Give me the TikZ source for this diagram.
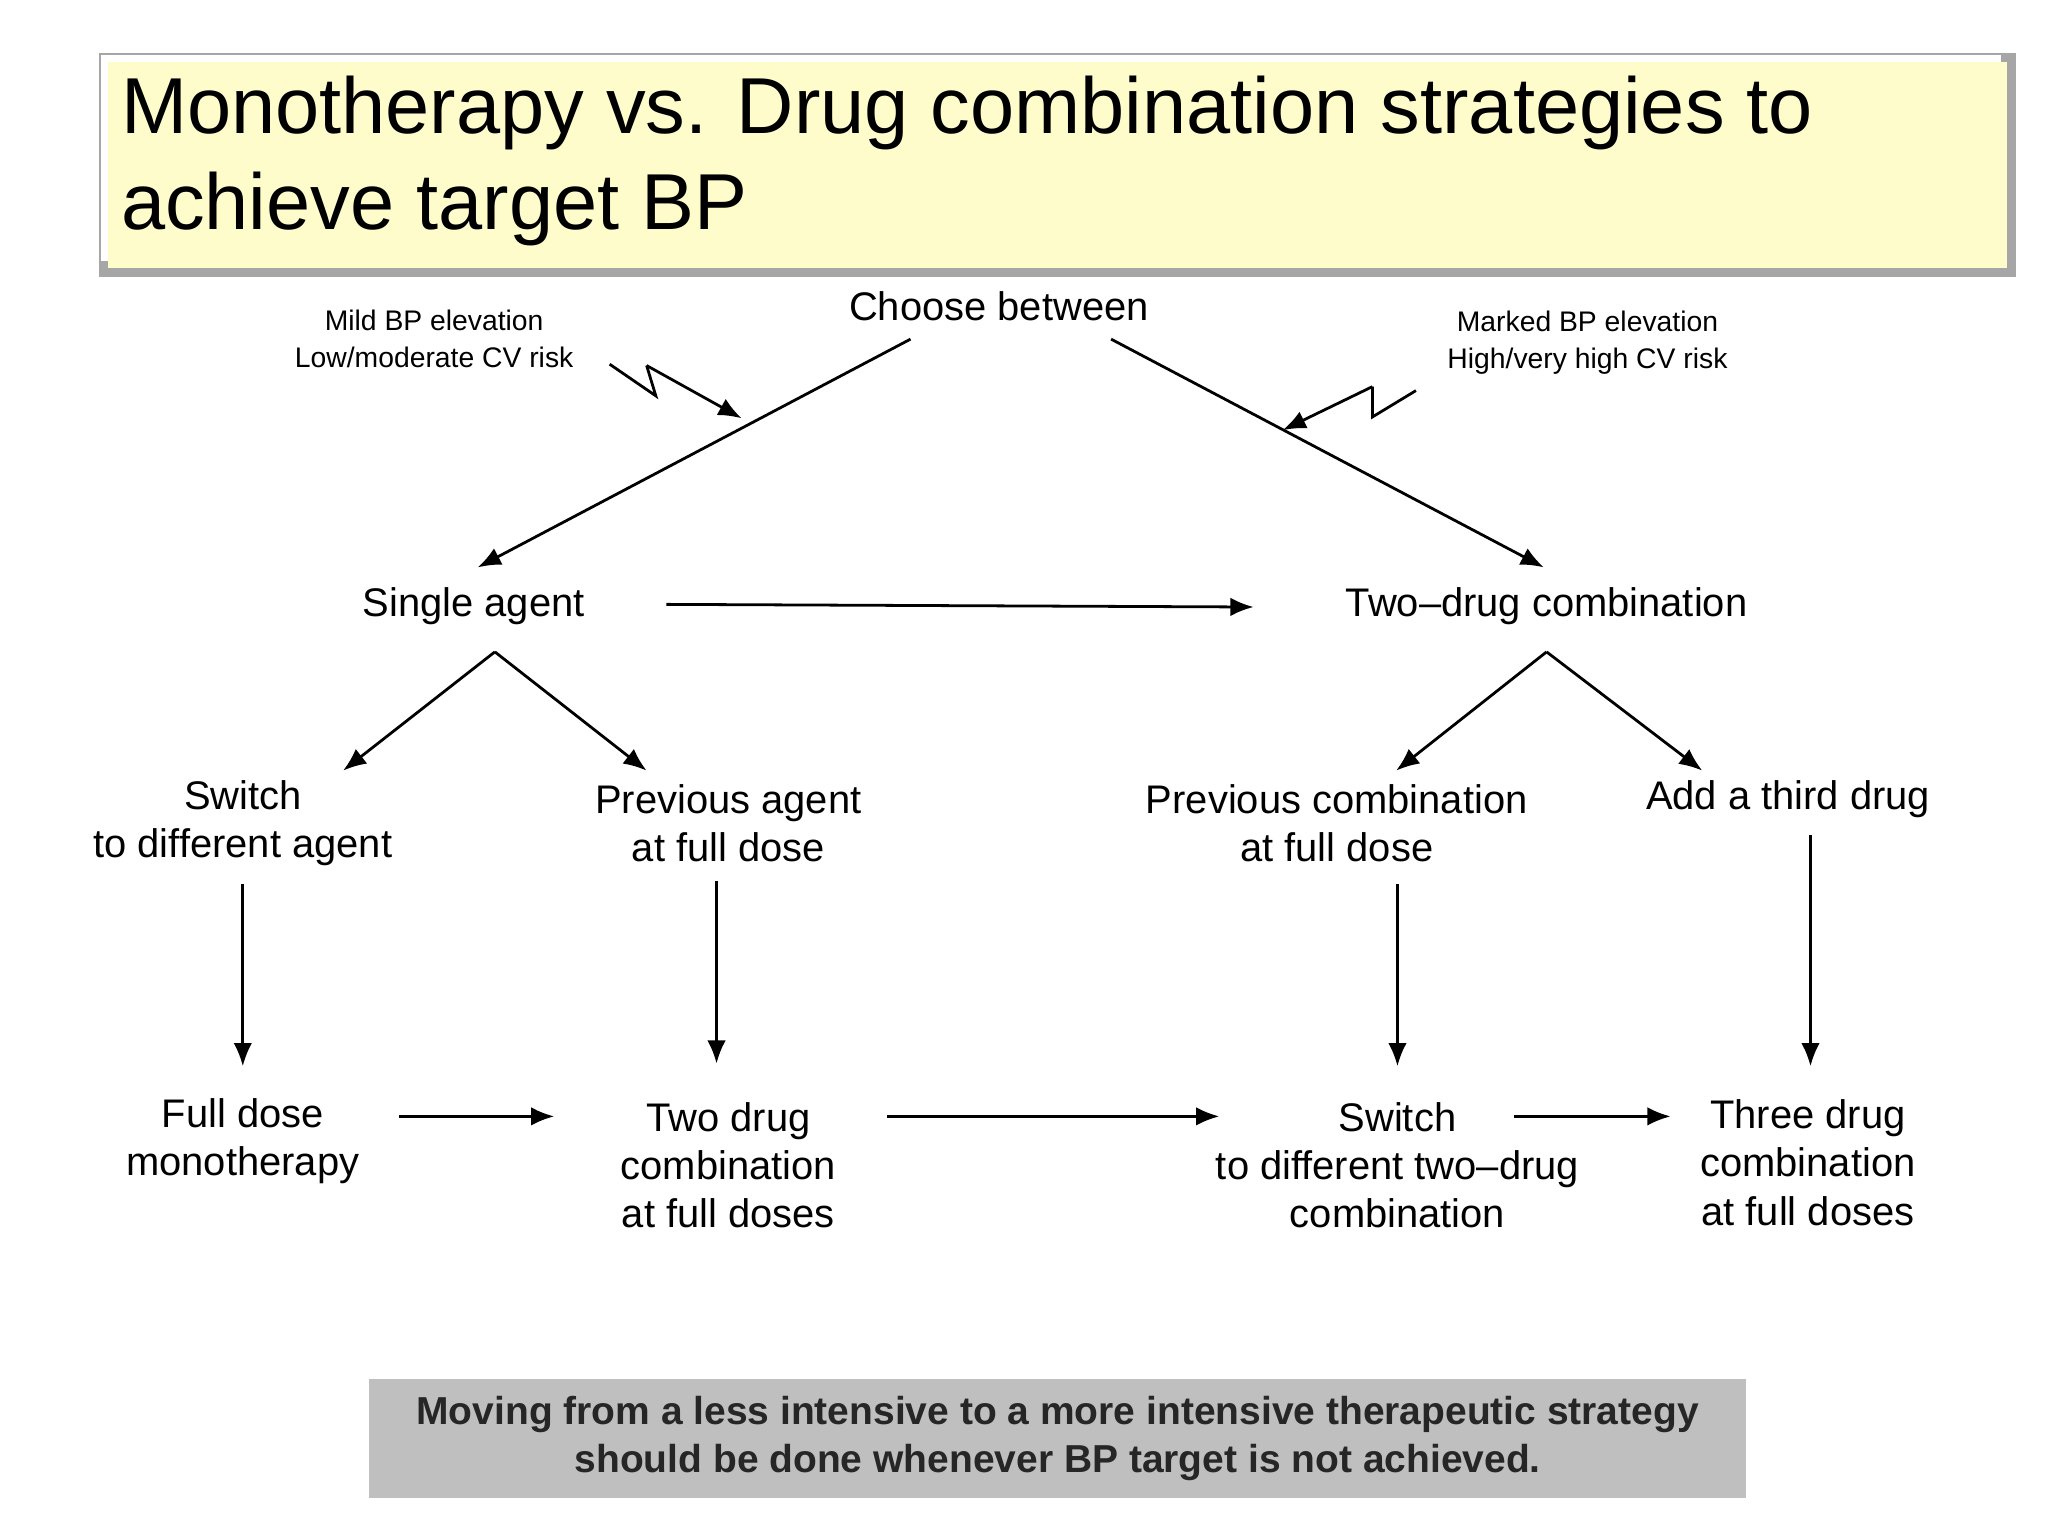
\documentclass[tikz,border=0pt]{standalone}
\usepackage{fontspec}
\setmainfont{Liberation Sans}
\usetikzlibrary{arrows.meta}
\begin{document}
\begin{tikzpicture}[x=0.01cm,y=-0.01cm,
  t/.style={align=center,font=\fontsize{8.6pt}{10.4pt}\selectfont},
  s/.style={align=center,font=\fontsize{6.1pt}{8pt}\selectfont},
  a/.style={-{Latex[length=5pt,width=4pt]},line width=0.6pt}]
\useasboundingbox (0,0) rectangle (1552,1164);
\fill[white] (0,0) rectangle (1552,1164);
\node[draw=black!35,line width=2pt,fill=yellow!20,minimum width=14.45cm,minimum height=1.63cm,anchor=north west,inner sep=0pt] (title) at (75,40) {};
\draw[white,line width=1.5pt] (79,198)--(79,44)--(1516,44);
\node[anchor=west,align=left,inner sep=0pt,font=\fontsize{17.1pt}{20.5pt}\selectfont] (tt) at (91,122) {Monotherapy vs. Drug combination strategies to\\achieve target BP};
\node[t] (ch) at (757,232) {Choose between};
\node[s] (mild) at (329,257) {Mild BP elevation\\Low/moderate CV risk};
\node[s] (mark) at (1203,260) {Marked BP elevation\\High/very high CV risk};
\node[t] (sa) at (359,459) {Single agent};
\node[t] (tw) at (1172,459) {Two--drug combination};
\node[t] (sw) at (184,624) {Switch\\to different agent};
\node[t] (pa) at (552,624) {Previous agent\\at full dose};
\node[t] (pc) at (1013,624) {Previous combination\\at full dose};
\node[t] (ad) at (1355,606) {Add a third drug};
\node[t] (fd) at (184,865) {Full dose\\monotherapy};
\node[t] (td) at (552,883) {Two drug\\combination\\at full doses};
\node[t] (s2) at (1059,883) {Switch\\to different two--drug\\combination};
\node[t] (th) at (1370,881) {Three drug\\combination\\at full doses};
\node[fill=black!25,minimum width=10.43cm,minimum height=0.9cm,inner sep=0pt,align=center,font=\bfseries\fontsize{8.4pt}{10.4pt}\selectfont,text=black!85] (bot) at (801.5,1090) {Moving from a less intensive to a more intensive therapeutic strategy\\should be done whenever BP target is not achieved.};
\foreach \n/\x/\y in {c1/690/257,c2/362/430,c3/842/257,c4/1170/430,c5/505/458,c6/950/460,
 c7/375/494,c8/260/584,c9/490/584,c10/1172/494,c11/1058/584,c12/1290/584,
 c13/184/670,c14/184/808,c15/543/668,c16/543/806,c17/1059/670,c18/1059/808,
 c19/1372/633,c20/1372/808,c21/302/846,c22/420/846,c23/672/846,c24/924/846,
 c25/1147/846,c26/1266/846,z1/462/276,z2/497/300,z3/490/277,z4/562/317,
 y1/1073/296,y2/1040/316,y3/1040/293,y4/972/326}
 \coordinate (\n) at (\x,\y);
\foreach \p/\q in {c1/c2,c3/c4,c5/c6,c7/c8,c7/c9,c10/c11,c10/c12,c13/c14,c15/c16,c17/c18,c19/c20,c21/c22,c23/c24,c25/c26}
 \draw[a] (\p)--(\q);
\draw[line width=0.6pt] (z1)--(z2)--(z3);
\draw[a] (z3)--(z4);
\draw[line width=0.6pt] (y1)--(y2)--(y3);
\draw[a] (y3)--(y4);
\end{tikzpicture}
\end{document}
